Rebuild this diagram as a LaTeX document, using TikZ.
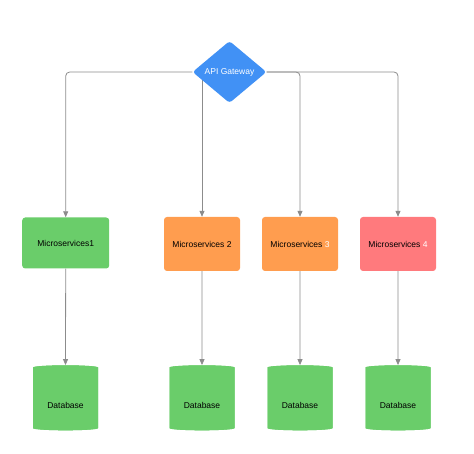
\documentclass[tikz,border=0pt]{standalone}
\usepackage{fontspec}
\setmainfont{Liberation Sans}
\usetikzlibrary{shapes.geometric,arrows.meta,backgrounds}

\definecolor{vert}{RGB}{106,205,106}
\definecolor{orange}{RGB}{255,157,79}
\definecolor{rose}{RGB}{255,122,125}
\definecolor{bleu}{RGB}{65,145,245}
\definecolor{trait}{RGB}{140,140,140}

\tikzset{
	service/.style={rectangle, rounded corners=3pt, draw=none, inner sep=0pt,
		minimum width=76pt, minimum height=54pt, font=\fontsize{8.5}{10}\selectfont},
	base/.style={cylinder, shape border rotate=90, aspect=0.12, draw=none, fill=vert,
		cylinder uses custom fill, cylinder body fill=vert, cylinder end fill=vert,
		minimum width=65pt, minimum height=65pt, inner sep=0pt,
		text height=18pt, text depth=0pt,
		font=\fontsize{8.5}{10}\selectfont},
	lien/.style={draw=trait, line width=0.8pt, rounded corners=4pt,
		-{Triangle[width=5pt,length=6pt]}}
}

\begin{document}
\begin{tikzpicture}[x=1pt,y=-1pt]
		\useasboundingbox (0,0) rectangle (474,454);

		% passerelle
		\node[diamond, fill=bleu, rounded corners=3pt, inner sep=0pt,
			minimum width=74pt, minimum height=62pt, text=white,
			font=\fontsize{8.5}{10}\selectfont] (api) at (229.5,72) {API Gateway};

		% microservices
		\node[service, fill=vert, minimum width=87pt, minimum height=51pt] (ms1) at (65.7,243) {Microservices1};
		\node[service, fill=orange] (ms2) at (202,244) {Microservices 2};
		\node[service, fill=orange] (ms3) at (300,244) {Microservices \textcolor{white}{3}};
		\node[service, fill=rose] (ms4) at (398,244) {Microservices \textcolor{white}{4}};

		% bases de donnees
		\node[base] (db1) at (65.5,399) {Database};
		\node[base] (db2) at (202,399) {Database};
		\node[base] (db3) at (300,399) {Database};
		\node[base] (db4) at (398,399) {Database};

		% liens passerelle -> microservices
		\draw[lien] (api.west) -| (ms1.north);
		\begin{scope}[on background layer]
			\draw[lien] (api.center -| ms2.north) -- (ms2.north);
		\end{scope}
		\draw[lien] (api.east) -| (ms3.north);
		\draw[lien] (api.east) -| (ms4.north);

		% liens microservices -> bases
		\draw[lien] (ms1.south) -- (db1.north);
		\draw[lien] (ms2.south) -- (db2.north);
		\draw[lien] (ms3.south) -- (db3.north);
		\draw[lien] (ms4.south) -- (db4.north);

		\end{tikzpicture}
\end{document}
